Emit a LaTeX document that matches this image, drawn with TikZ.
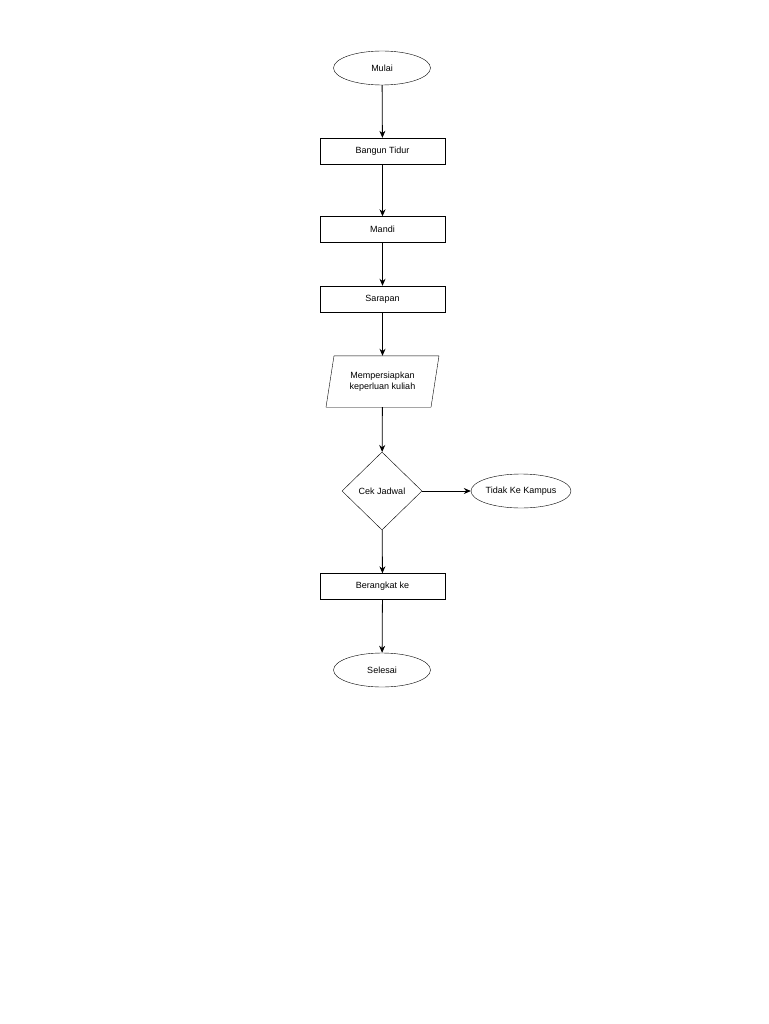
\documentclass[tikz,border=0pt]{standalone}
\usepackage{fontspec}
\setmainfont{Liberation Sans}
\usetikzlibrary{shapes.geometric,arrows.meta}
\begin{document}
\begin{tikzpicture}[x=1pt,y=-1pt,
  every node/.style={font=\fontsize{9}{11}\selectfont,align=center},
  term/.style={ellipse,draw,minimum width=97pt,minimum height=34pt,inner sep=0pt},
  proc/.style={rectangle,draw,minimum width=125pt,minimum height=26pt,inner sep=0pt},
  dec/.style={diamond,draw,minimum width=80pt,minimum height=78pt,inner sep=0pt},
  arr/.style={-{Stealth[length=7pt,width=6pt]},line width=0.8pt}]
\useasboundingbox (0,0) rectangle (768,1024);
\node[term] (mulai) at (382,68) {Mulai};
\node[proc] (bangun) at (382.5,151) {Bangun Tidur};
\node[proc] (mandi) at (382.5,229.5) {Mandi};
\node[proc] (sarapan) at (382.5,299) {Sarapan};
\node[minimum width=105pt,minimum height=51pt,inner sep=0pt] (siap) at (382.5,381.5) {Mempersiapkan\\keperluan kuliah};
\draw ([xshift=-48.5pt]siap.north) -- ([xshift=56.5pt]siap.north) -- ([xshift=48.5pt]siap.south) -- ([xshift=-56.5pt]siap.south) -- cycle;
\node[dec] (cek) at (382,491) {Cek Jadwal};
\node[term] (tidak) at (521,491) {Tidak Ke Kampus};
\node[proc] (berangkat) at (382.5,586.5) {Berangkat ke};
\node[term] (selesai) at (382,670) {Selesai};
\draw[arr] (mulai) -- (bangun);
\draw[arr] (bangun) -- (mandi);
\draw[arr] (mandi) -- (sarapan);
\draw[arr] (sarapan) -- (siap);
\draw[arr] (siap) -- (cek);
\draw[arr] (cek) -- (tidak);
\draw[arr] (cek) -- (berangkat);
\draw[arr] (berangkat) -- (selesai);
\end{tikzpicture}
\end{document}
